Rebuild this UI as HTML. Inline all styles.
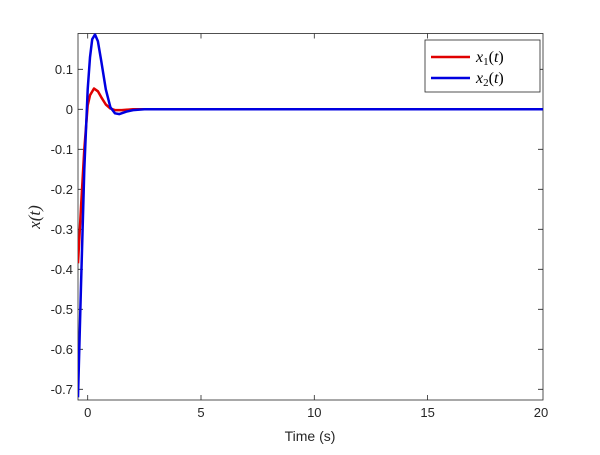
<!DOCTYPE html><html><head><style>body{margin:0;background:#fff}</style></head><body>
<svg width="600" height="450" xmlns="http://www.w3.org/2000/svg" font-family="Liberation Sans, sans-serif">
<rect width="600" height="450" fill="#fff"/>
<defs><clipPath id="c"><rect x="78" y="33.5" width="465" height="366.5"/></clipPath></defs>
<g stroke="#262626" stroke-width="0.8" fill="none">
<rect x="78" y="33.5" width="465" height="366.5"/>
<path d="M87.7,400v-5M201,400v-5M314.3,400v-5M427.6,400v-5M87.7,33.5v5M201,33.5v5M314.3,33.5v5M427.6,33.5v5
M78,69.3h5M78,109.3h5M78,149.3h5M78,189.3h5M78,229.3h5M78,269.3h5M78,309.3h5M78,349.3h5M78,389.3h5
M543,69.3h-5M543,109.3h-5M543,149.3h-5M543,189.3h-5M543,229.3h-5M543,269.3h-5M543,309.3h-5M543,349.3h-5M543,389.3h-5"/>
</g>
<g font-size="13" fill="#262626" text-anchor="end">
<text x="73" y="74">0.1</text><text x="73" y="114">0</text><text x="73" y="154">-0.1</text><text x="73" y="194">-0.2</text><text x="73" y="234">-0.3</text><text x="73" y="274">-0.4</text><text x="73" y="314">-0.5</text><text x="73" y="354">-0.6</text><text x="73" y="394">-0.7</text>
</g>
<g font-size="13" fill="#262626" text-anchor="middle">
<text x="87.7" y="417">0</text><text x="201" y="417">5</text><text x="314.3" y="417">10</text><text x="427.6" y="417">15</text><text x="541" y="417">20</text>
<text x="310" y="441" font-size="14">Time (s)</text>
</g>
<text transform="translate(40,217) rotate(-90)" text-anchor="middle" font-family="Liberation Serif, serif" font-style="italic" font-size="17" fill="#262626">x(t)</text>
<g clip-path="url(#c)" fill="none" stroke-width="2.5" stroke-linejoin="round">
<polyline stroke="#e00000" points="78,263.3 80.9,209.3 84.3,149.3 87.7,105.3 90,95.3 94,88.5 97.9,91.3 101.3,97.3 105.8,104.5 110.4,108.5 114.9,110.1 121.7,110.1 133,109.3 543,109.3"/>
<polyline stroke="#0000e0" points="78,397.3 80.9,289.3 84.3,169.3 87.7,89.3 90,57.3 92.2,39.3 95,34.5 97.9,41.3 101.3,61.3 105.8,89.3 110.4,107.3 114.9,113.3 119.4,114.1 126.2,111.7 133,110.1 144.4,109.3 543,109.3"/>
</g>
<rect x="425" y="40" width="115" height="52" fill="#fff" stroke="#262626" stroke-width="0.8"/>
<line x1="431" y1="57" x2="470" y2="57" stroke="#e00000" stroke-width="2.5"/>
<line x1="431" y1="78" x2="470" y2="78" stroke="#0000e0" stroke-width="2.5"/>
<g font-family="Liberation Serif, serif" font-size="16" fill="#000">
<text x="476" y="62"><tspan font-style="italic">x</tspan><tspan font-size="11" dy="3">1</tspan><tspan dy="-3">(</tspan><tspan font-style="italic">t</tspan>)</text>
<text x="476" y="83"><tspan font-style="italic">x</tspan><tspan font-size="11" dy="3">2</tspan><tspan dy="-3">(</tspan><tspan font-style="italic">t</tspan>)</text>
</g>
</svg>
</body></html>
